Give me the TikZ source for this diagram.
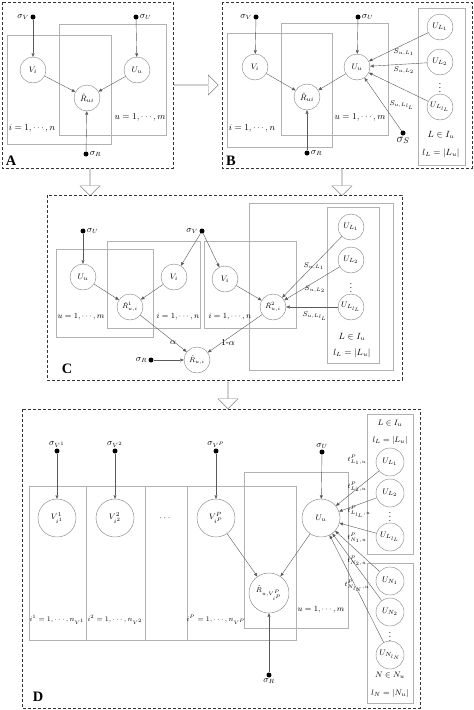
\documentclass[tikz,border=0pt]{standalone}
\usepackage{fontspec}
\setmainfont{Liberation Serif}
\usetikzlibrary{arrows.meta,shapes.arrows}
\begin{document}
\begin{tikzpicture}[x=1pt,y=-1pt,font=\small,inner sep=1pt,
var/.style={circle,draw=gray,minimum size=26pt,inner sep=0pt,font=\footnotesize},
bigvar/.style={var,minimum size=38pt},
midvar/.style={var,minimum size=28pt},
hyper/.style={circle,fill=black,inner sep=0pt,minimum size=5pt},
plate/.style={draw=gray!60},
panel/.style={draw=black!80,densely dashed},
edge/.style={-{Triangle[length=3.5pt,width=3pt]},draw=gray!70!black},
flow/.style={single arrow,draw=gray,fill=white,inner sep=0pt,minimum width=20pt,single arrow head extend=4pt},
tag/.style={font=\bfseries\Large}]
\useasboundingbox (0,0) rectangle (474,710);
% A
\draw[panel] (2,2) rectangle (173,168);
\draw[plate] (7,35) rectangle (111,144);
\draw[plate] (59,24) rectangle (166,135);
\node[var] (Va) at (33,70) {$V_i$};
\node[var] (Ua) at (137,70) {$U_u$};
\node[var] (Ra) at (87,98) {$\hat R_{ui}$};
\node[hyper,label=left:{$\sigma_V$}] (sVa) at (33,17) {};
\node[hyper,label=right:{$\sigma_U$}] (sUa) at (136,17) {};
\node[hyper,label=right:{$\sigma_R$}] (sRa) at (86,154) {};
\node (ia) at (32,128) {$i=1,\cdots,n$};
\node (ua) at (140,117) {$u=1,\cdots,m$};
\node[tag] (A) at (11,161) {A};
\draw[edge] (sVa) -- (Va);
\draw[edge] (sUa) -- (Ua);
\draw[edge] (Va) -- (Ra);
\draw[edge] (Ua) -- (Ra);
\draw[edge] (sRa) -- (Ra);
\node[flow,minimum height=44pt] (arrAB) at (196,85) {};
\node[flow,minimum height=27pt,shape border rotate=270] (arrAC) at (90,182) {};
% B
\draw[panel] (222,2) rectangle (472,168);
\draw[plate] (227,33) rectangle (332,147);
\draw[plate] (281,23) rectangle (388,135);
\draw[plate] (418,8) rectangle (465,165);
\node[var] (Vb) at (255,67) {$V_i$};
\node[var] (Ub) at (357,67) {$U_u$};
\node[var] (Rb) at (307,97) {$\hat R_{ui}$};
\node[hyper,label=left:{$\sigma_V$}] (sVb) at (256,17) {};
\node[hyper,label=right:{$\sigma_U$}] (sUb) at (358,17) {};
\node[hyper,label=right:{$\sigma_R$}] (sRb) at (307,153) {};
\node[hyper,label={[font=\large]below:{$\sigma_S$}}] (sSb) at (403,133) {};
\node[var] (UL1b) at (440,27) {$U_{L_1}$};
\node[var] (UL2b) at (440,62) {$U_{L_2}$};
\node (vdb) at (440,85) {$\vdots$};
\node[var] (ULlb) at (440,107) {$U_{L_{l_L}}$};
\node (Lb) at (441,135) {$L\in I_u$};
\node (lLb) at (441,153) {$l_L=|L_u|$};
\node[font=\scriptsize] (S1b) at (404,52) {$S_{u,L_1}$};
\node[font=\scriptsize] (S2b) at (404,70) {$S_{u,L_2}$};
\node[font=\scriptsize] (Slb) at (402,105) {$S_{u,L_{l_L}}$};
\node (ib) at (252,128) {$i=1,\cdots,n$};
\node (ub) at (360,117) {$u=1,\cdots,m$};
\node[tag] (B) at (231,161) {B};
\draw[edge] (sVb) -- (Vb);
\draw[edge] (sUb) -- (Ub);
\draw[edge] (Vb) -- (Rb);
\draw[edge] (Ub) -- (Rb);
\draw[edge] (sRb) -- (Rb);
\draw[edge] (sSb) -- (Ub);
\draw[edge] (UL1b) -- (Ub);
\draw[edge] (UL2b) -- (Ub);
\draw[edge] (ULlb) -- (Ub);
\node[flow,minimum height=27pt,shape border rotate=270] (arrBC) at (342,182) {};
% C
\draw[panel] (47,195) rectangle (402,380);
\draw[plate] (56,249) rectangle (153,337);
\draw[plate] (107,241) rectangle (200,328);
\draw[plate] (204,241) rectangle (296,328);
\draw[plate] (249,203) rectangle (393,370);
\draw[plate] (327,207) rectangle (379,363);
\node[var] (Uc) at (83,277) {$U_u$};
\node[var] (V1c) at (174,277) {$V_i$};
\node[var] (V2c) at (225,279) {$V_i$};
\node[var,font=\scriptsize] (R1c) at (130,307) {$\hat R^1_{u,i}$};
\node[var,font=\scriptsize] (R2c) at (273,307) {$\hat R^2_{u,i}$};
\node[var,font=\scriptsize] (Rc) at (197,360) {$\hat R_{u,i}$};
\node[hyper,label=right:{$\sigma_U$}] (sUc) at (83,231) {};
\node[hyper,label=left:{$\sigma_V$}] (sVc) at (202,231) {};
\node[hyper,label=left:{$\sigma_R$}] (sRc) at (151,360) {};
\node[var] (UL1c) at (351,227) {$U_{L_1}$};
\node[var] (UL2c) at (351,260) {$U_{L_2}$};
\node (vdc) at (351,285) {$\vdots$};
\node[var] (ULlc) at (351,307) {$U_{L_{l_L}}$};
\node (Lc) at (352,337) {$L\in I_u$};
\node (lLc) at (352,353) {$l_L=|L_u|$};
\node[font=\scriptsize] (S1c) at (314,266) {$S_{u,L_1}$};
\node[font=\scriptsize] (S2c) at (315,289) {$S_{u,L_2}$};
\node[font=\scriptsize] (Slc) at (315,316) {$S_{u,L_{l_L}}$};
\node[font=\footnotesize] (uc) at (81,317) {$u=1,\cdots,m$};
\node[font=\footnotesize] (i1c) at (178,317) {$i=1,\cdots,n$};
\node[font=\footnotesize] (i2c) at (230,317) {$i=1,\cdots,n$};
\node (ac) at (173,343) {$\alpha$};
\node (bc) at (228,343) {1-$\alpha$};
\node[tag] (C) at (67,369) {C};
\draw[edge] (sUc) -- (Uc);
\draw[edge] (sVc) -- (V1c);
\draw[edge] (sVc) -- (V2c);
\draw[edge] (Uc) -- (R1c);
\draw[edge] (V1c) -- (R1c);
\draw[edge] (V2c) -- (R2c);
\draw[edge] (UL1c) -- (R2c);
\draw[edge] (UL2c) -- (R2c);
\draw[edge] (ULlc) -- (R2c);
\draw[edge] (R1c) -- (Rc);
\draw[edge] (R2c) -- (Rc);
\draw[edge] (sRc) -- (Rc);
\node[flow,minimum height=27pt,shape border rotate=270] (arrCD) at (228,395) {};
% D
\draw[panel] (22,409) rectangle (420,708);
\draw[plate] (29,486) rectangle (86,640);
\draw[plate] (86,486) rectangle (145,640);
\draw[plate] (145,486) rectangle (187,640);
\draw[plate] (187,486) rectangle (296,640);
\draw[plate] (244,472) rectangle (348,628);
\draw[plate] (367,414) rectangle (413,554);
\draw[plate] (367,563) rectangle (413,703);
\node[bigvar] (V1d) at (57,518) {$V^1_{i^1}$};
\node[bigvar] (V2d) at (115,518) {$V^2_{i^2}$};
\node (hd) at (165,518) {$\cdots$};
\node[bigvar] (VPd) at (216,518) {$V^P_{i^P}$};
\node[bigvar] (Ud) at (321,518) {$U_u$};
\node[bigvar,minimum size=40pt,font=\scriptsize] (Rd) at (269,593) {$\hat R_{u,V^P_{i^P}}$};
\node[hyper,label=above:{$\sigma_{V^1}$}] (sV1d) at (57,451) {};
\node[hyper,label=above:{$\sigma_{V^2}$}] (sV2d) at (115,451) {};
\node[hyper,label=above:{$\sigma_{V^P}$}] (sVPd) at (216,451) {};
\node[hyper,label=above:{$\sigma_U$}] (sUd) at (322,452) {};
\node[hyper,label=below:{$\sigma_R$}] (sRd) at (269,675) {};
\node[midvar] (UL1d) at (390,462) {$U_{L_1}$};
\node[midvar] (UL2d) at (390,493) {$U_{L_2}$};
\node (vLd) at (390,514) {$\vdots$};
\node[midvar] (ULld) at (390,537) {$U_{L_{l_L}}$};
\node[midvar] (UN1d) at (390,581) {$U_{N_1}$};
\node[midvar] (UN2d) at (390,612) {$U_{N_2}$};
\node (vNd) at (390,634) {$\vdots$};
\node[midvar] (UNld) at (390,655) {$U_{N_{l_N}}$};
\node[font=\footnotesize] (Ld) at (390,423) {$L\in I_u$};
\node[font=\footnotesize] (lLd) at (390,440) {$l_L=|L_u|$};
\node[font=\footnotesize] (Nd) at (390,675) {$N\in N_u$};
\node[font=\footnotesize] (lNd) at (390,693) {$l_N=|N_u|$};
\node[font=\scriptsize] (t1d) at (357,460) {$t^P_{L_1,u}$};
\node[font=\scriptsize] (t2d) at (357,487) {$t^P_{L_2,u}$};
\node[font=\scriptsize] (t3d) at (359,512) {$t^P_{L_{l_L},u}$};
\node[font=\scriptsize] (t4d) at (357,538) {$t^P_{N_1,u}$};
\node[font=\scriptsize] (t5d) at (357,561) {$t^P_{N_2,u}$};
\node[font=\scriptsize] (t6d) at (357,586) {$t^P_{N_{l_N},u}$};
\node[font=\footnotesize] (ud) at (321,610) {$u=1,\cdots,m$};
\node[font=\scriptsize] (i1d) at (57,620) {$i^1=1,\cdots,n_{V^1}$};
\node[font=\scriptsize] (i2d) at (115,620) {$i^2=1,\cdots,n_{V^2}$};
\node[font=\scriptsize] (iPd) at (216,620) {$i^P=1,\cdots,n_{V^P}$};
\node[tag] (D) at (38,697) {D};
\draw[edge] (sV1d) -- (V1d);
\draw[edge] (sV2d) -- (V2d);
\draw[edge] (sVPd) -- (VPd);
\draw[edge] (sUd) -- (Ud);
\draw[edge] (VPd) -- (Rd);
\draw[edge] (Ud) -- (Rd);
\draw[edge] (sRd) -- (Rd);
\foreach \n in {UL1d,UL2d,ULld,UN1d,UN2d,UNld}
  \draw[edge] (\n) -- (Ud);
\end{tikzpicture}
\end{document}
